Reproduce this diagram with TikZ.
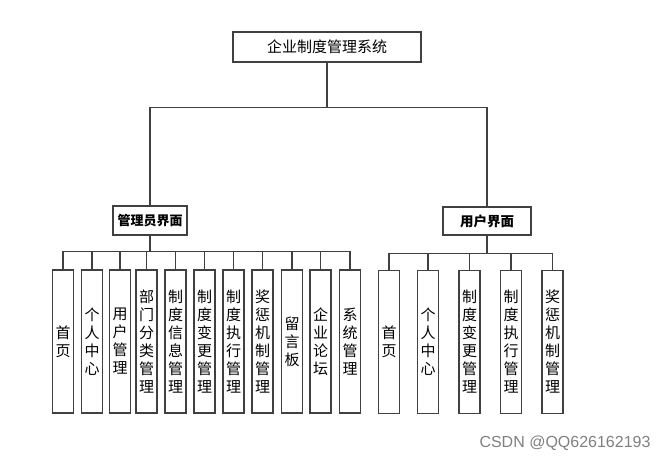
\documentclass[tikz,border=0pt]{standalone}
\usepackage{fontspec}
\setmainfont{Noto Sans CJK SC}
\newfontfamily\markfont{Liberation Sans}
\definecolor{linegray}{HTML}{404040}
\begin{document}
\begin{tikzpicture}[x=1pt, y=-1pt,
    box/.style={draw=linegray, line width=1.3pt, fill=white, inner sep=0pt},
    vbox/.style={box, minimum width=21pt, minimum height=143pt, align=center,
                 font=\fontsize{15}{18}\selectfont},
    link/.style={draw=linegray, line width=1.3pt}]
    \useasboundingbox (0,0) rectangle (666,462);
    \node[box, minimum width=188pt, minimum height=30pt, font=\fontsize{15}{18}\selectfont] (top) at (327,47) {企业制度管理系统};
    \node[box, minimum width=74pt, minimum height=29pt, font=\bfseries\fontsize{13}{16}\selectfont] (admin) at (150,220.5) {管理员界面};
    \node[box, minimum width=88pt, minimum height=28pt, font=\bfseries\fontsize{13.5}{16}\selectfont] (user) at (487,221) {用户界面};
    \draw[link] (top.south) -- ++(0,45) -| (admin.north);
    \draw[link] (top.south) -- ++(0,45) -| (user.north);
    % admin children
    \foreach \x/\t [count=\i] in {63/{首\\页}, 92/{个\\人\\中\\心}, 120/{用\\户\\管\\理},
        146.5/{部\\门\\分\\类\\管\\理}, 175.5/{制\\度\\信\\息\\管\\理}, 204.5/{制\\度\\变\\更\\管\\理},
        233.5/{制\\度\\执\\行\\管\\理}, 262.5/{奖\\惩\\机\\制\\管\\理}, 292/{留\\言\\板},
        320.5/{企\\业\\论\\坛}, 350/{系\\统\\管\\理}} {
        \node[vbox] (a\i) at (\x,341.5) {\t};
        \draw[link] (admin.south) -- ++(0,16) -| (a\i.north);
    }
    % user children
    \foreach \x/\t [count=\i] in {389/{首\\页}, 428/{个\\人\\中\\心}, 469.5/{制\\度\\变\\更\\管\\理},
        511/{制\\度\\执\\行\\管\\理}, 552.5/{奖\\惩\\机\\制\\管\\理}} {
        \node[vbox] (u\i) at (\x,342) {\t};
        \draw[link] (user.south) -- ++(0,18) -| (u\i.north);
    }
    \node[font=\markfont\fontsize{16}{18}\selectfont, text=gray] (mark) at (565,443) {CSDN @QQ626162193};
\end{tikzpicture}
\end{document}
